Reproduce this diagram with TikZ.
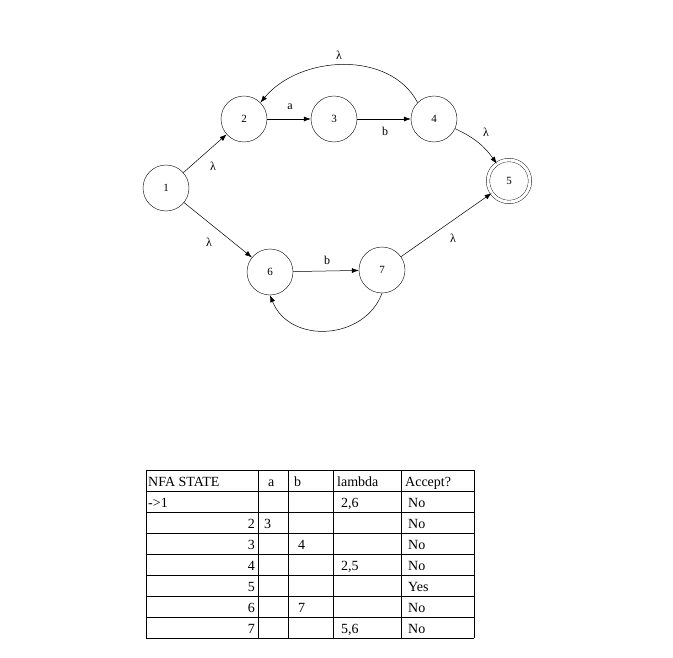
\documentclass[tikz,border=0pt]{standalone}
\usepackage{fontspec}
\setmainfont{Liberation Serif}
\usetikzlibrary{arrows.meta}
\begin{document}
\begin{tikzpicture}[x=1pt,y=-1pt,
  st/.style={circle,draw,minimum size=46pt,inner sep=0pt,font=\fontsize{11}{12}\selectfont},
  acc/.style={st,double,double distance=3pt,minimum size=48pt},
  tr/.style={-{Latex[length=7pt,width=5pt]},line width=0.5pt},
  lab/.style={font=\fontsize{12}{13}\selectfont},
  cell/.style={font=\fontsize{14}{15}\selectfont,inner sep=0pt,anchor=base west}]
\useasboundingbox (0,0) rectangle (673,658);
\node[st] (n1) at (166,188) {1};
\node[st] (n2) at (244,119) {2};
\node[st] (n3) at (334,119) {3};
\node[st] (n4) at (434,119) {4};
\node[acc,minimum size=42pt] (n5) at (509,181) {5};
\node[st] (n6) at (270,272) {6};
\node[st] (n7) at (382,270) {7};
\draw[tr] (n1) -- (n2);
\draw[tr] (n1) -- (n6);
\draw[tr] (n2) -- (n3);
\draw[tr] (n3) -- (n4);
\draw[tr] (n4.north west) .. controls (390,50) and (300,55) .. (n2.north east);
\draw[tr] (n4) to[bend left=15] (n5);
\draw[tr] (n6) -- (n7);
\draw[tr] (n7) -- (n5);
\draw[tr] (n7.south) .. controls (365,340) and (290,345) .. (n6.south);
\node[lab] (l1) at (339,55) {λ};
\node[lab] (l2) at (290,107) {a};
\node[lab] (l3) at (385,131) {b};
\node[lab] (l4) at (486,132) {λ};
\node[lab] (l5) at (213,166) {λ};
\node[lab] (l6) at (209,242) {λ};
\node[lab] (l7) at (327,260) {b};
\node[lab] (l8) at (453,238) {λ};
% table
\foreach \y in {470,491,512,533,554,575,596,617,638} \draw[line width=0.6pt] (146,\y) -- (474,\y);
\foreach \x in {146,258,288,333,401,474} \draw[line width=0.6pt] (\x,470) -- (\x,638);
\node[cell] (h1) at (148,486) {NFA STATE};
\node[cell] (h2) at (268,486) {a};
\node[cell] (h3) at (294,486) {b};
\node[cell] (h4) at (337,486) {lambda};
\node[cell] (h5) at (405,486) {Accept?};
\node[cell] (r1) at (148,507) {->1};
\node[cell] (r1c) at (341,507) {2,6};
\node[cell] (r1d) at (408,507) {No};
\node[cell,anchor=base east] (r2) at (255,528) {2};
\node[cell] (r2a) at (264,528) {3};
\node[cell] (r2d) at (408,528) {No};
\node[cell,anchor=base east] (r3) at (255,549) {3};
\node[cell] (r3b) at (298,549) {4};
\node[cell] (r3d) at (408,549) {No};
\node[cell,anchor=base east] (r4) at (255,570) {4};
\node[cell] (r4c) at (341,570) {2,5};
\node[cell] (r4d) at (408,570) {No};
\node[cell,anchor=base east] (r5) at (255,591) {5};
\node[cell] (r5d) at (408,591) {Yes};
\node[cell,anchor=base east] (r6) at (255,612) {6};
\node[cell] (r6b) at (298,612) {7};
\node[cell] (r6d) at (408,612) {No};
\node[cell,anchor=base east] (r7) at (255,633) {7};
\node[cell] (r7c) at (341,633) {5,6};
\node[cell] (r7d) at (408,633) {No};
\end{tikzpicture}
\end{document}
